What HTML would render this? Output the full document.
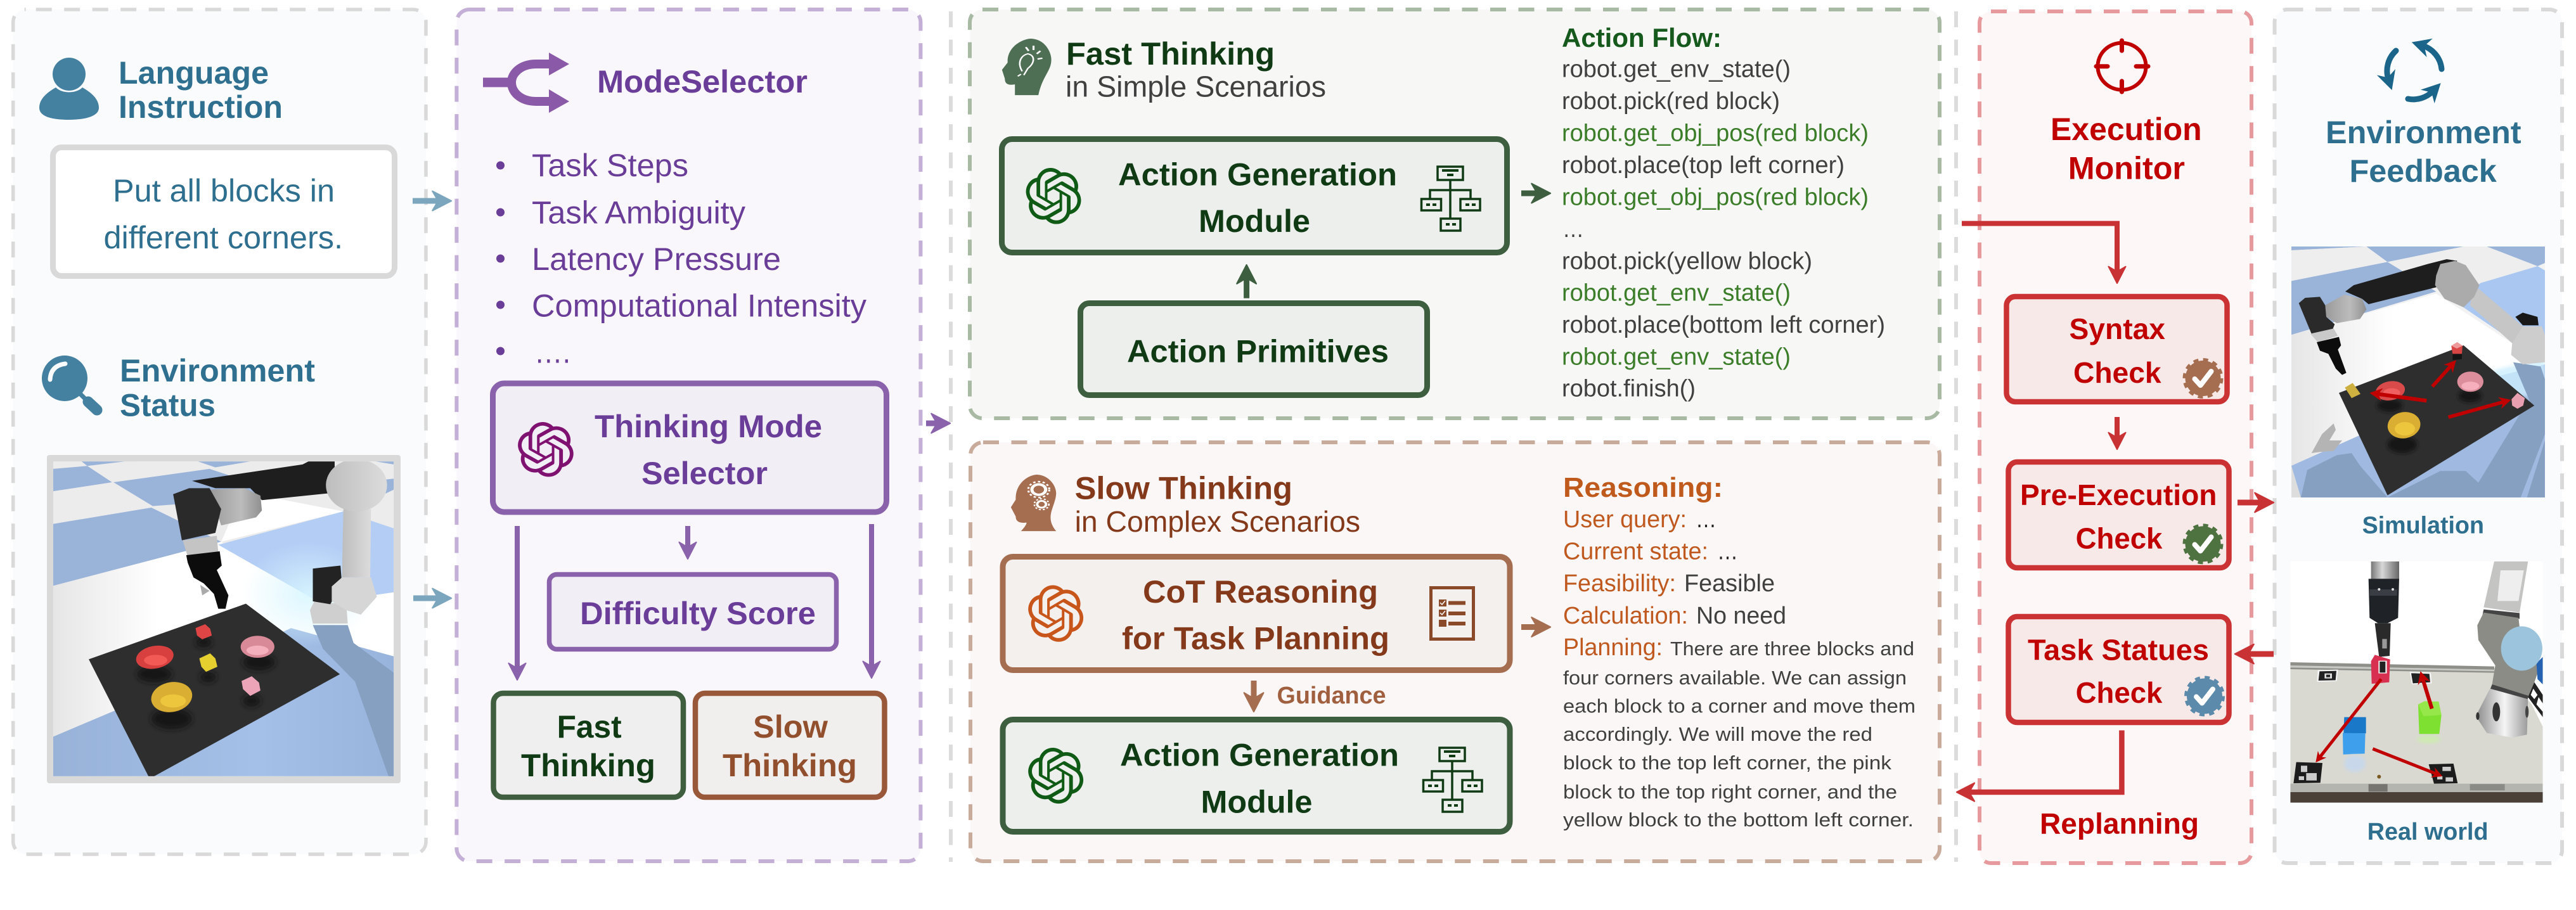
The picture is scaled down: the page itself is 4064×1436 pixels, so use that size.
<!DOCTYPE html>
<html><head><meta charset="utf-8"><style>
html,body{margin:0;padding:0;background:#fff}
svg{display:block}
text{font-family:"Liberation Sans",Arial,sans-serif;white-space:pre}
</style></head><body>
<svg xmlns="http://www.w3.org/2000/svg" width="4064" height="1436" viewBox="0 0 4064 1436">
<defs>
<marker id="mB" viewBox="-3 -3 6 6" markerWidth="6" markerHeight="6" refX="0" refY="0" orient="auto" markerUnits="strokeWidth"><path d="M2,0L-1.3,-1.7L-.3,0L-1.3,1.7Z" fill="#7ba6bd" stroke="#7ba6bd" stroke-width=".25" stroke-linejoin="round"/></marker>
<marker id="mP" viewBox="-3 -3 6 6" markerWidth="6" markerHeight="6" refX="0" refY="0" orient="auto" markerUnits="strokeWidth"><path d="M2,0L-1.3,-1.7L-.3,0L-1.3,1.7Z" fill="#8a62ac" stroke="#8a62ac" stroke-width=".25" stroke-linejoin="round"/></marker>
<marker id="mG" viewBox="-3 -3 6 6" markerWidth="6" markerHeight="6" refX="0" refY="0" orient="auto" markerUnits="strokeWidth"><path d="M2,0L-1.3,-1.7L-.3,0L-1.3,1.7Z" fill="#3e5e40" stroke="#3e5e40" stroke-width=".25" stroke-linejoin="round"/></marker>
<marker id="mW" viewBox="-3 -3 6 6" markerWidth="6" markerHeight="6" refX="0" refY="0" orient="auto" markerUnits="strokeWidth"><path d="M2,0L-1.3,-1.7L-.3,0L-1.3,1.7Z" fill="#a66e50" stroke="#a66e50" stroke-width=".25" stroke-linejoin="round"/></marker>
<marker id="mR" viewBox="-3 -3 6 6" markerWidth="6" markerHeight="6" refX="0" refY="0" orient="auto" markerUnits="strokeWidth"><path d="M2,0L-1.3,-1.7L-.3,0L-1.3,1.7Z" fill="#c93235" stroke="#c93235" stroke-width=".25" stroke-linejoin="round"/></marker>
<marker id="mD" viewBox="-3 -3 6 6" markerWidth="6" markerHeight="6" refX="0" refY="0" orient="auto" markerUnits="strokeWidth"><path d="M2,0L-1.3,-1.7L-.3,0L-1.3,1.7Z" fill="#c00000"/></marker>
<marker id="mC" viewBox="-3 -3 6 6" markerWidth="6" markerHeight="6" refX="0" refY="0" orient="auto" markerUnits="strokeWidth"><path d="M2,0L-1.3,-1.7L-.3,0L-1.3,1.7Z" fill="#1a6589"/></marker>
<clipPath id="c1"><rect x="183" y="60" width="1170" height="1058"/></clipPath>
<clipPath id="c2"><rect x="15" y="12" width="1200" height="1188"/></clipPath>
<clipPath id="c3"><rect x="10" y="18" width="1195" height="1142"/></clipPath>
<linearGradient id="fl" x1="0" x2="1" y1="0" y2="0"><stop offset="0" stop-color="#e6e6e6"/><stop offset=".4" stop-color="#fff"/><stop offset="1" stop-color="#fff"/></linearGradient>
<linearGradient id="tl" x1="0" x2="1" y1="0" y2="0"><stop offset="0" stop-color="#98b2d8"/><stop offset=".6" stop-color="#a4c0e8"/><stop offset="1" stop-color="#98b4dc"/></linearGradient>
<radialGradient id="gl" cx=".55" cy=".45" r=".35"><stop offset="0" stop-color="#d8f6ff" stop-opacity=".9"/><stop offset="1" stop-color="#d8f6ff" stop-opacity="0"/></radialGradient>
<linearGradient id="jt" x1="0" x2="1" y1="0" y2="0"><stop offset="0" stop-color="#bdbdbd"/><stop offset="1" stop-color="#dcdcdc"/></linearGradient>
<linearGradient id="jd" x1="0" x2="1" y1="0" y2="0"><stop offset="0" stop-color="#9a9a9a"/><stop offset=".6" stop-color="#bcbcbc"/><stop offset="1" stop-color="#8f8f8f"/></linearGradient>
<linearGradient id="sl" x1="0" x2="1" y1="0" y2="0"><stop offset="0" stop-color="#8a8a8a"/><stop offset=".55" stop-color="#f5f5f5"/><stop offset="1" stop-color="#9a9a9a"/></linearGradient>
<linearGradient id="cy" x1="0" x2="1" y1="0" y2="0"><stop offset="0" stop-color="#777"/><stop offset=".4" stop-color="#d8d8d8"/><stop offset="1" stop-color="#666"/></linearGradient>
<filter id="bl"><feGaussianBlur stdDeviation="9"/></filter>
</defs>

<!-- panels -->
<rect x="20.7" y="15" width="651.3" height="1333" rx="20" fill="#f9fbfd" stroke="#d9d9d9" stroke-width="5.5" stroke-dasharray="25 19.5" stroke-dashoffset="-16"/>
<rect x="720.4" y="15" width="732" height="1344" rx="20" fill="#f9f7fb" stroke="#c4afd6" stroke-width="6" stroke-dasharray="25 19.5"/>
<rect x="1530" y="15" width="1530" height="645" rx="20" fill="#f7f8f6" stroke="#a9baa4" stroke-width="6" stroke-dasharray="25 19.5"/>
<rect x="1531" y="698" width="1529" height="661" rx="20" fill="#fbf7f6" stroke="#c9ab9c" stroke-width="6" stroke-dasharray="25 19.5"/>
<rect x="3123" y="18" width="429" height="1344" rx="18" fill="#fdf7f7" stroke="#e79a9e" stroke-width="6" stroke-dasharray="25 19.5"/>
<rect x="3588.5" y="15" width="453.5" height="1347" rx="20" fill="#f9fbfd" stroke="#d9d9d9" stroke-width="6" stroke-dasharray="25 19.5"/>
<line x1="1500" y1="18" x2="1500" y2="1360" stroke="#dcdcdc" stroke-width="6" stroke-dasharray="25 19.5"/>
<line x1="3086" y1="18" x2="3086" y2="1360" stroke="#dcdcdc" stroke-width="6" stroke-dasharray="25 19.5"/>

<!-- Language Instruction -->
<circle cx="109" cy="117" r="26" fill="#44809f"/>
<path d="M62 170C62 155 76 145 88 138C98 148 120 148 130 138C142 145 156 155 156 170C156 185 130 189 109 189C85 189 62 185 62 170Z" fill="#44809f"/>
<g font-size="50" fill="#2f6f8f" font-weight="700">
<text x="187" y="132" textLength="237" lengthAdjust="spacingAndGlyphs">Language</text>
<text x="187" y="186" textLength="259" lengthAdjust="spacingAndGlyphs">Instruction</text>
<text x="189" y="602" textLength="308" lengthAdjust="spacingAndGlyphs">Environment</text>
<text x="189" y="656.5" textLength="151" lengthAdjust="spacingAndGlyphs">Status</text>
</g>
<rect x="83.5" y="232.5" width="539" height="203" rx="14" fill="#fff" stroke="#d9d9d9" stroke-width="9"/>
<g font-size="50" fill="#2e6e8e">
<text x="178" y="318" textLength="350" lengthAdjust="spacingAndGlyphs">Put all blocks in</text>
<text x="163.5" y="392" textLength="377.5" lengthAdjust="spacingAndGlyphs">different corners.</text>
</g>
<!-- magnifier -->
<circle cx="102" cy="597" r="36" fill="#44809f"/>
<path d="M79 599Q80 577 103 574" fill="none" stroke="#f9fbfd" stroke-width="7" stroke-linecap="round"/>
<line x1="125" y1="620" x2="136" y2="631" stroke="#44809f" stroke-width="7"/>
<line x1="139" y1="634" x2="153" y2="647" stroke="#44809f" stroke-width="17" stroke-linecap="round"/>

<!-- sim image 1 -->
<rect x="74" y="718" width="558" height="518" rx="4" fill="#d9d9d9"/>
<g transform="translate(0,700) scale(.4591,.4695)"><g clip-path="url(#c1)">
<rect x="183" y="60" width="1170" height="1058" fill="url(#fl)"/>
<polygon points="183,60 1353,60 1353,300 183,480" fill="#ececec"/>
<polygon points="183,85 300,75 385,130 183,160" fill="#9ab3d9"/>
<polygon points="280,60 430,60 300,75" fill="#9ab3d9"/>
<polygon points="680,60 860,60 740,80" fill="#9ab3d9"/>
<polygon points="1290,60 1353,60 1353,70" fill="#9ab3d9"/>
<polygon points="390,130 720,85 1000,175 525,210" fill="#9ab3d9"/>
<polygon points="183,270 520,215 760,330 183,478" fill="#9ab3d9"/>
<polygon points="1280,125 1353,118 1353,155 1320,170" fill="#9ab3d9"/>
<polygon points="760,330 1180,228 900,175 800,240" fill="#fff"/>
<polygon points="183,478 760,330 1080,530 1000,620 400,895 183,985" fill="url(#fl)"/>
<polygon points="750,340 1180,228 1353,285 1353,500 1100,535" fill="#b3cdf5"/>
<polygon points="1100,535 1353,500 1353,715 1000,620" fill="#fff"/>
<polygon points="183,985 400,895 1000,620 1353,715 1353,1118 183,1118" fill="url(#tl)"/>
<rect x="700" y="280" width="653" height="500" fill="url(#gl)"/>
<polygon points="1075,610 1195,610 1215,670 1353,770 1353,1118 1335,1118 1220,800 1110,690" fill="#86a0c2"/>
<polygon points="305,725 845,538 1168,775 530,1118 510,1118" fill="#2e2e2e"/>
<g filter="url(#bl)" fill="#161616"><ellipse cx="530" cy="775" rx="60" ry="28"/><ellipse cx="890" cy="735" rx="55" ry="28"/><ellipse cx="590" cy="925" rx="70" ry="35"/><ellipse cx="700" cy="668" rx="28" ry="18"/><ellipse cx="715" cy="785" rx="28" ry="18"/><ellipse cx="865" cy="865" rx="30" ry="20"/></g>
<ellipse cx="532" cy="718" rx="65" ry="38" transform="rotate(-10 532 718)" fill="#d8403f"/><ellipse cx="535" cy="728" rx="40" ry="18" fill="#f15a55"/>
<ellipse cx="885" cy="683" rx="58" ry="37" fill="#d98a98"/><ellipse cx="885" cy="695" rx="38" ry="16" fill="#f4b0bd"/>
<ellipse cx="590" cy="852" rx="71" ry="50" transform="rotate(-10 590 852)" fill="#d9ae32"/><ellipse cx="595" cy="865" rx="44" ry="22" fill="#eec63e"/>
<polygon points="672,620 705,607 722,622 728,645 695,658 677,645" fill="#e04545"/>
<polygon points="685,722 722,705 740,722 747,750 708,767 692,750" fill="#e6d030"/>
<polygon points="830,798 865,782 890,803 895,830 860,848 835,825" fill="#eba4b8"/>
<!-- robot -->
<polygon points="1065,560 1080,530 1190,540 1195,605 1075,605" fill="#cfcfcf"/>
<polygon points="1075,420 1170,410 1175,470 1135,540 1075,530" fill="#232323"/>
<polygon points="1180,220 1275,220 1272,450 1175,450" fill="url(#jt)"/>
<polygon points="1175,450 1275,450 1295,515 1240,575 1190,560 1140,530 1140,480" fill="#d6d6d6"/>
<polygon points="660,125 1040,70 1060,60 1150,60 1150,165 900,190 860,150 740,150" fill="#1e1e1e"/>
<ellipse cx="1225" cy="140" rx="105" ry="88" fill="url(#jt)"/>
<polygon points="720,155 840,150 895,175 900,225 880,248 760,275" fill="url(#jd)"/>
<path d="M595 170L650 150H720L760 220L740 300L625 325Z" fill="#2a2a2a"/>
<polygon points="628,325 745,310 750,365 645,380" fill="#c4c4c4"/>
<polygon points="640,375 755,362 762,410 745,425 785,510 775,555 750,555 735,505 700,470 665,450 645,400" fill="#0c0c0c"/>
<polygon points="688,475 720,495 695,510" fill="#aaa"/>
</g></g>

<!-- blue arrows -->
<line x1="651" y1="317" x2="694" y2="317" stroke="#7ba6bd" stroke-width="9" marker-end="url(#mB)"/>
<line x1="652" y1="944" x2="694" y2="944" stroke="#7ba6bd" stroke-width="9" marker-end="url(#mB)"/>

<!-- ModeSelector -->
<path d="M762 130H807" stroke="#8a5aa8" stroke-width="15" fill="none"/>
<path d="M872 101H846C822 101 807 115 807 130C807 146 822 160 846 160H872" stroke="#8a5aa8" stroke-width="14" fill="none"/>
<polygon points="866,83 898,101 866,119" fill="#8a5aa8"/>
<polygon points="866,141 898,160 866,178" fill="#8a5aa8"/>
<text x="942" y="146" font-size="50" font-weight="700" fill="#6a3d98" textLength="332" lengthAdjust="spacingAndGlyphs">ModeSelector</text>
<g fill="#6a3d98">
<circle cx="789.5" cy="261" r="6.5"/><circle cx="789.5" cy="335" r="6.5"/><circle cx="789.5" cy="408" r="6.5"/><circle cx="789.5" cy="481" r="6.5"/><circle cx="789.5" cy="554" r="6.5"/>
<g font-size="50">
<text x="839" y="278" textLength="247" lengthAdjust="spacingAndGlyphs">Task Steps</text>
<text x="839" y="352.6" textLength="337" lengthAdjust="spacingAndGlyphs">Task Ambiguity</text>
<text x="839" y="426" textLength="393" lengthAdjust="spacingAndGlyphs">Latency Pressure</text>
<text x="839" y="499.5" textLength="528" lengthAdjust="spacingAndGlyphs">Computational Intensity</text>
<text x="843" y="572.5" textLength="57" lengthAdjust="spacingAndGlyphs">….</text>
</g></g>
<rect x="777.5" y="605" width="621" height="203" rx="18" fill="#f2eef6" stroke="#8a62ac" stroke-width="9"/>
<g transform="translate(816.5,666) scale(3.7,3.6)" fill="#7f1270"><path d="M22.2819 9.8211a5.9847 5.9847 0 0 0-.5157-4.9108 6.0462 6.0462 0 0 0-6.5098-2.9A6.0651 6.0651 0 0 0 4.9807 4.1818a5.9847 5.9847 0 0 0-3.9977 2.9 6.0462 6.0462 0 0 0 .7427 7.0966 5.98 5.98 0 0 0 .511 4.9107 6.051 6.051 0 0 0 6.5146 2.9001A5.9847 5.9847 0 0 0 13.2599 24a6.0557 6.0557 0 0 0 5.7718-4.2058 5.9894 5.9894 0 0 0 3.9977-2.9001 6.0557 6.0557 0 0 0-.7475-7.0729zm-9.022 12.6081a4.4755 4.4755 0 0 1-2.8764-1.0408l.1419-.0804 4.7783-2.7582a.7948.7948 0 0 0 .3927-.6813v-6.7369l2.02 1.1686a.071.071 0 0 1 .038.052v5.5826a4.504 4.504 0 0 1-4.4945 4.4944zm-9.6607-4.1254a4.4708 4.4708 0 0 1-.5346-3.0137l.142.0852 4.783 2.7582a.7712.7712 0 0 0 .7806 0l5.8428-3.3685v2.3324a.0804.0804 0 0 1-.0332.0615L9.74 19.9502a4.4992 4.4992 0 0 1-6.1408-1.6464zM2.3408 7.8956a4.485 4.485 0 0 1 2.3655-1.9728V11.6a.7664.7664 0 0 0 .3879.6765l5.8144 3.3543-2.0201 1.1685a.0757.0757 0 0 1-.071 0l-4.8303-2.7865A4.504 4.504 0 0 1 2.3408 7.872zm16.5963 3.8558L13.1038 8.364 15.1192 7.2a.0757.0757 0 0 1 .071 0l4.8303 2.7913a4.4944 4.4944 0 0 1-.6765 8.1042v-5.6772a.79.79 0 0 0-.407-.667zm2.0107-3.0231l-.142-.0852-4.7735-2.7818a.7759.7759 0 0 0-.7854 0L9.409 9.2297V6.8974a.0662.0662 0 0 1 .0284-.0615l4.8303-2.7866a4.4992 4.4992 0 0 1 6.6802 4.66zM8.3065 12.863l-2.02-1.1638a.0804.0804 0 0 1-.038-.0567V6.0742a4.4992 4.4992 0 0 1 7.3757-3.4537l-.142.0805L8.704 5.459a.7948.7948 0 0 0-.3927.6813zm1.0976-2.3654l2.602-1.4998 2.6069 1.4998v2.9994l-2.5974 1.4997-2.6067-1.4997Z"/></g>
<g font-size="50" font-weight="700" fill="#6a3d98">
<text x="938" y="690" textLength="359" lengthAdjust="spacingAndGlyphs">Thinking Mode</text>
<text x="1012" y="764" textLength="199" lengthAdjust="spacingAndGlyphs">Selector</text>
</g>
<g stroke="#8a62ac" stroke-width="8" fill="none">
<line x1="816" y1="830" x2="816" y2="1057" marker-end="url(#mP)"/>
<line x1="1085" y1="830" x2="1085" y2="866" marker-end="url(#mP)"/>
<line x1="1375" y1="827" x2="1375" y2="1054" marker-end="url(#mP)"/>
</g>
<rect x="866.5" y="906.5" width="453" height="118" rx="12" fill="#f2eef6" stroke="#8a62ac" stroke-width="7.5"/>
<text x="915" y="985" font-size="50" font-weight="700" fill="#6a3d98" textLength="372" lengthAdjust="spacingAndGlyphs">Difficulty Score</text>
<rect x="778.5" y="1094" width="299.5" height="164" rx="15" fill="#efefef" stroke="#3e5e3f" stroke-width="8.5"/>
<rect x="1097" y="1094" width="298.5" height="164" rx="15" fill="#f1eeee" stroke="#99583a" stroke-width="8.5"/>
<g font-size="50" font-weight="700">
<text x="878.6" y="1164" fill="#0f3a14" textLength="102" lengthAdjust="spacingAndGlyphs">Fast</text>
<text x="822" y="1225" fill="#0f3a14" textLength="212" lengthAdjust="spacingAndGlyphs">Thinking</text>
<text x="1188" y="1164" fill="#924f2d" textLength="118" lengthAdjust="spacingAndGlyphs">Slow</text>
<text x="1140" y="1225" fill="#924f2d" textLength="212" lengthAdjust="spacingAndGlyphs">Thinking</text>
</g>
<line x1="1461" y1="668" x2="1481" y2="668" stroke="#8a62ac" stroke-width="9" marker-end="url(#mP)"/>

<!-- Fast Thinking -->
<g transform="translate(1480,0) scale(.6378,.4591)">
<path d="M190 327V290C170 295 165 285 165 270L158 240L172 215C170 160 210 133 230 133C265 135 280 180 280 205C280 245 258 260 248 327Z" fill="#4f6f55"/>
<path d="M205 255L197 262M208 245C195 215 205 190 222 185C240 190 240 215 222 235L212 258" stroke="#fff" stroke-width="4" fill="none"/>
<path d="M217 162L224 175M236 157V172M253 175L244 185M258 200L246 203" stroke="#fff" stroke-width="5" fill="none"/>
</g>
<text x="1682" y="102" font-size="50" font-weight="700" fill="#0f3a14" textLength="329" lengthAdjust="spacingAndGlyphs">Fast Thinking</text>
<text x="1681" y="152.4" font-size="46" fill="#404040" textLength="411" lengthAdjust="spacingAndGlyphs">in Simple Scenarios</text>
<rect x="1580.5" y="219.5" width="797" height="179" rx="16" fill="#edefed" stroke="#3e5e40" stroke-width="9"/>
<g transform="translate(1618,265) scale(3.67,3.69)" fill="#0f5a14"><path d="M22.2819 9.8211a5.9847 5.9847 0 0 0-.5157-4.9108 6.0462 6.0462 0 0 0-6.5098-2.9A6.0651 6.0651 0 0 0 4.9807 4.1818a5.9847 5.9847 0 0 0-3.9977 2.9 6.0462 6.0462 0 0 0 .7427 7.0966 5.98 5.98 0 0 0 .511 4.9107 6.051 6.051 0 0 0 6.5146 2.9001A5.9847 5.9847 0 0 0 13.2599 24a6.0557 6.0557 0 0 0 5.7718-4.2058 5.9894 5.9894 0 0 0 3.9977-2.9001 6.0557 6.0557 0 0 0-.7475-7.0729zm-9.022 12.6081a4.4755 4.4755 0 0 1-2.8764-1.0408l.1419-.0804 4.7783-2.7582a.7948.7948 0 0 0 .3927-.6813v-6.7369l2.02 1.1686a.071.071 0 0 1 .038.052v5.5826a4.504 4.504 0 0 1-4.4945 4.4944zm-9.6607-4.1254a4.4708 4.4708 0 0 1-.5346-3.0137l.142.0852 4.783 2.7582a.7712.7712 0 0 0 .7806 0l5.8428-3.3685v2.3324a.0804.0804 0 0 1-.0332.0615L9.74 19.9502a4.4992 4.4992 0 0 1-6.1408-1.6464zM2.3408 7.8956a4.485 4.485 0 0 1 2.3655-1.9728V11.6a.7664.7664 0 0 0 .3879.6765l5.8144 3.3543-2.0201 1.1685a.0757.0757 0 0 1-.071 0l-4.8303-2.7865A4.504 4.504 0 0 1 2.3408 7.872zm16.5963 3.8558L13.1038 8.364 15.1192 7.2a.0757.0757 0 0 1 .071 0l4.8303 2.7913a4.4944 4.4944 0 0 1-.6765 8.1042v-5.6772a.79.79 0 0 0-.407-.667zm2.0107-3.0231l-.142-.0852-4.7735-2.7818a.7759.7759 0 0 0-.7854 0L9.409 9.2297V6.8974a.0662.0662 0 0 1 .0284-.0615l4.8303-2.7866a4.4992 4.4992 0 0 1 6.6802 4.66zM8.3065 12.863l-2.02-1.1638a.0804.0804 0 0 1-.038-.0567V6.0742a4.4992 4.4992 0 0 1 7.3757-3.4537l-.142.0805L8.704 5.459a.7948.7948 0 0 0-.3927.6813zm1.0976-2.3654l2.602-1.4998 2.6069 1.4998v2.9994l-2.5974 1.4997-2.6067-1.4997Z"/></g>
<g font-size="50" font-weight="700" fill="#0f3a14">
<text x="1764" y="292.5" textLength="440" lengthAdjust="spacingAndGlyphs">Action Generation</text>
<text x="1891" y="366" textLength="176" lengthAdjust="spacingAndGlyphs">Module</text>
</g>
<g transform="translate(2241,262)" fill="none" stroke="#0f3a14" stroke-width="3.5">
<rect x="27" y="1" width="40" height="21"/><path d="M34 7H60M42 14H52" stroke-width="4"/>
<path d="M47 22V83M15 52V38H79V52"/>
<rect x="1.5" y="52" width="31" height="18"/><rect x="63" y="52" width="31" height="18"/><rect x="32" y="83" width="31" height="19"/>
<path d="M9 61H15M19 61H25M71 61H77M81 61H87M40 92H46M50 92H56" stroke-width="4"/>
</g>
<line x1="2400" y1="305" x2="2428" y2="305" stroke="#3e5e40" stroke-width="9" marker-end="url(#mG)"/>
<line x1="1966.6" y1="470.6" x2="1966.6" y2="436" stroke="#3e5e40" stroke-width="9" marker-end="url(#mG)"/>
<rect x="1704.5" y="478.5" width="547" height="145" rx="14" fill="#edefed" stroke="#3e5e40" stroke-width="9"/>
<text x="1778" y="571.6" font-size="50" font-weight="700" fill="#0f3a14" textLength="413" lengthAdjust="spacingAndGlyphs">Action Primitives</text>

<!-- Action Flow -->
<text x="2464" y="74" font-size="42" font-weight="700" fill="#15591c" textLength="252" lengthAdjust="spacingAndGlyphs">Action Flow:</text>
<g font-size="38" fill="#404040">
<text x="2464" y="121.7" textLength="361" lengthAdjust="spacingAndGlyphs">robot.get_env_state()</text>
<text x="2464" y="172" textLength="344" lengthAdjust="spacingAndGlyphs">robot.pick(red block)</text>
<text x="2464" y="222.7" fill="#3c7d2a" textLength="484" lengthAdjust="spacingAndGlyphs">robot.get_obj_pos(red block)</text>
<text x="2464" y="273" textLength="446" lengthAdjust="spacingAndGlyphs">robot.place(top left corner)</text>
<text x="2464" y="323.7" fill="#3c7d2a" textLength="484" lengthAdjust="spacingAndGlyphs">robot.get_obj_pos(red block)</text>
<text x="2465" y="374" textLength="34" lengthAdjust="spacingAndGlyphs">…</text>
<text x="2464" y="424.7" textLength="395" lengthAdjust="spacingAndGlyphs">robot.pick(yellow block)</text>
<text x="2464" y="474.3" fill="#3c7d2a" textLength="361" lengthAdjust="spacingAndGlyphs">robot.get_env_state()</text>
<text x="2464" y="524.8" textLength="510" lengthAdjust="spacingAndGlyphs">robot.place(bottom left corner)</text>
<text x="2464" y="575.3" fill="#3c7d2a" textLength="361" lengthAdjust="spacingAndGlyphs">robot.get_env_state()</text>
<text x="2464" y="625.3" textLength="211" lengthAdjust="spacingAndGlyphs">robot.finish()</text>
</g>

<!-- Slow Thinking -->
<g transform="translate(1480,680) scale(.6378,.4822)">
<path d="M205 328C218 310 220 300 218 300C200 303 192 295 192 280L180 250L192 225C190 170 225 143 245 143C275 145 292 180 292 205C290 250 262 280 292 328Z" fill="#a66e50"/>
<g fill="none" stroke="#fff"><circle cx="249" cy="192" r="17" stroke-width="8"/><circle cx="249" cy="192" r="26" stroke-width="5" stroke-dasharray="6 6"/><circle cx="256" cy="240" r="11" stroke-width="6"/><circle cx="256" cy="240" r="18" stroke-width="4" stroke-dasharray="5 5"/></g>
</g>
<text x="1695.6" y="787.5" font-size="50" font-weight="700" fill="#83391a" textLength="343.4" lengthAdjust="spacingAndGlyphs">Slow Thinking</text>
<text x="1695.6" y="839" font-size="46" fill="#83391a" textLength="450.4" lengthAdjust="spacingAndGlyphs">in Complex Scenarios</text>
<rect x="1582" y="878.5" width="800" height="179" rx="16" fill="#f4f0ee" stroke="#a66e50" stroke-width="9"/>
<g transform="translate(1621.6,923.5) scale(3.67,3.72)" fill="#c8551a"><path d="M22.2819 9.8211a5.9847 5.9847 0 0 0-.5157-4.9108 6.0462 6.0462 0 0 0-6.5098-2.9A6.0651 6.0651 0 0 0 4.9807 4.1818a5.9847 5.9847 0 0 0-3.9977 2.9 6.0462 6.0462 0 0 0 .7427 7.0966 5.98 5.98 0 0 0 .511 4.9107 6.051 6.051 0 0 0 6.5146 2.9001A5.9847 5.9847 0 0 0 13.2599 24a6.0557 6.0557 0 0 0 5.7718-4.2058 5.9894 5.9894 0 0 0 3.9977-2.9001 6.0557 6.0557 0 0 0-.7475-7.0729zm-9.022 12.6081a4.4755 4.4755 0 0 1-2.8764-1.0408l.1419-.0804 4.7783-2.7582a.7948.7948 0 0 0 .3927-.6813v-6.7369l2.02 1.1686a.071.071 0 0 1 .038.052v5.5826a4.504 4.504 0 0 1-4.4945 4.4944zm-9.6607-4.1254a4.4708 4.4708 0 0 1-.5346-3.0137l.142.0852 4.783 2.7582a.7712.7712 0 0 0 .7806 0l5.8428-3.3685v2.3324a.0804.0804 0 0 1-.0332.0615L9.74 19.9502a4.4992 4.4992 0 0 1-6.1408-1.6464zM2.3408 7.8956a4.485 4.485 0 0 1 2.3655-1.9728V11.6a.7664.7664 0 0 0 .3879.6765l5.8144 3.3543-2.0201 1.1685a.0757.0757 0 0 1-.071 0l-4.8303-2.7865A4.504 4.504 0 0 1 2.3408 7.872zm16.5963 3.8558L13.1038 8.364 15.1192 7.2a.0757.0757 0 0 1 .071 0l4.8303 2.7913a4.4944 4.4944 0 0 1-.6765 8.1042v-5.6772a.79.79 0 0 0-.407-.667zm2.0107-3.0231l-.142-.0852-4.7735-2.7818a.7759.7759 0 0 0-.7854 0L9.409 9.2297V6.8974a.0662.0662 0 0 1 .0284-.0615l4.8303-2.7866a4.4992 4.4992 0 0 1 6.6802 4.66zM8.3065 12.863l-2.02-1.1638a.0804.0804 0 0 1-.038-.0567V6.0742a4.4992 4.4992 0 0 1 7.3757-3.4537l-.142.0805L8.704 5.459a.7948.7948 0 0 0-.3927.6813zm1.0976-2.3654l2.602-1.4998 2.6069 1.4998v2.9994l-2.5974 1.4997-2.6067-1.4997Z"/></g>
<g font-size="50" font-weight="700" fill="#83391a">
<text x="1803" y="951" textLength="371" lengthAdjust="spacingAndGlyphs">CoT Reasoning</text>
<text x="1770" y="1024.7" textLength="422" lengthAdjust="spacingAndGlyphs">for Task Planning</text>
</g>
<rect x="2257.5" y="927.5" width="67" height="81" fill="#f4f0ee" stroke="#8a4a2a" stroke-width="5"/>
<g fill="#8a4a2a">
<rect x="2270" y="946" width="12" height="11"/><rect x="2270" y="962" width="12" height="11"/><rect x="2270" y="978" width="12" height="11"/>
<rect x="2285" y="948.5" width="27" height="6"/><rect x="2285" y="965" width="27" height="6"/><rect x="2285" y="981" width="27" height="6"/>
</g>
<path d="M2272 951l3 3l5-6M2272 967l3 3l5-6" stroke="#fff" stroke-width="1.5" fill="none"/>
<line x1="2400" y1="989.5" x2="2428" y2="989.5" stroke="#a66e50" stroke-width="9" marker-end="url(#mW)"/>
<line x1="1978" y1="1074" x2="1978" y2="1105" stroke="#a66e50" stroke-width="9" marker-end="url(#mW)"/>
<text x="2014.5" y="1110" font-size="38" font-weight="700" fill="#a0603f" textLength="172" lengthAdjust="spacingAndGlyphs">Guidance</text>
<rect x="1582" y="1135.5" width="800" height="177" rx="16" fill="#edefed" stroke="#3e5e40" stroke-width="9"/>
<g transform="translate(1621.6,1180) scale(3.67,3.67)" fill="#0f5a14"><path d="M22.2819 9.8211a5.9847 5.9847 0 0 0-.5157-4.9108 6.0462 6.0462 0 0 0-6.5098-2.9A6.0651 6.0651 0 0 0 4.9807 4.1818a5.9847 5.9847 0 0 0-3.9977 2.9 6.0462 6.0462 0 0 0 .7427 7.0966 5.98 5.98 0 0 0 .511 4.9107 6.051 6.051 0 0 0 6.5146 2.9001A5.9847 5.9847 0 0 0 13.2599 24a6.0557 6.0557 0 0 0 5.7718-4.2058 5.9894 5.9894 0 0 0 3.9977-2.9001 6.0557 6.0557 0 0 0-.7475-7.0729zm-9.022 12.6081a4.4755 4.4755 0 0 1-2.8764-1.0408l.1419-.0804 4.7783-2.7582a.7948.7948 0 0 0 .3927-.6813v-6.7369l2.02 1.1686a.071.071 0 0 1 .038.052v5.5826a4.504 4.504 0 0 1-4.4945 4.4944zm-9.6607-4.1254a4.4708 4.4708 0 0 1-.5346-3.0137l.142.0852 4.783 2.7582a.7712.7712 0 0 0 .7806 0l5.8428-3.3685v2.3324a.0804.0804 0 0 1-.0332.0615L9.74 19.9502a4.4992 4.4992 0 0 1-6.1408-1.6464zM2.3408 7.8956a4.485 4.485 0 0 1 2.3655-1.9728V11.6a.7664.7664 0 0 0 .3879.6765l5.8144 3.3543-2.0201 1.1685a.0757.0757 0 0 1-.071 0l-4.8303-2.7865A4.504 4.504 0 0 1 2.3408 7.872zm16.5963 3.8558L13.1038 8.364 15.1192 7.2a.0757.0757 0 0 1 .071 0l4.8303 2.7913a4.4944 4.4944 0 0 1-.6765 8.1042v-5.6772a.79.79 0 0 0-.407-.667zm2.0107-3.0231l-.142-.0852-4.7735-2.7818a.7759.7759 0 0 0-.7854 0L9.409 9.2297V6.8974a.0662.0662 0 0 1 .0284-.0615l4.8303-2.7866a4.4992 4.4992 0 0 1 6.6802 4.66zM8.3065 12.863l-2.02-1.1638a.0804.0804 0 0 1-.038-.0567V6.0742a4.4992 4.4992 0 0 1 7.3757-3.4537l-.142.0805L8.704 5.459a.7948.7948 0 0 0-.3927.6813zm1.0976-2.3654l2.602-1.4998 2.6069 1.4998v2.9994l-2.5974 1.4997-2.6067-1.4997Z"/></g>
<g font-size="50" font-weight="700" fill="#0f3a14">
<text x="1767" y="1208.5" textLength="440" lengthAdjust="spacingAndGlyphs">Action Generation</text>
<text x="1894.5" y="1282.7" textLength="176" lengthAdjust="spacingAndGlyphs">Module</text>
</g>
<g transform="translate(2244,1179)" fill="none" stroke="#0f3a14" stroke-width="3.5">
<rect x="27" y="1" width="40" height="21"/><path d="M34 7H60M42 14H52" stroke-width="4"/>
<path d="M47 22V83M15 52V38H79V52"/>
<rect x="1.5" y="52" width="31" height="18"/><rect x="63" y="52" width="31" height="18"/><rect x="32" y="83" width="31" height="19"/>
<path d="M9 61H15M19 61H25M71 61H77M81 61H87M40 92H46M50 92H56" stroke-width="4"/>
</g>

<!-- Reasoning -->
<text x="2466" y="784" font-size="44" font-weight="700" fill="#c05a1c" textLength="252" lengthAdjust="spacingAndGlyphs">Reasoning:</text>
<g font-size="38">
<text x="2466" y="832" fill="#c0591f" textLength="195" lengthAdjust="spacingAndGlyphs">User query:</text><text x="2675" y="832" fill="#222" textLength="33" lengthAdjust="spacingAndGlyphs">…</text>
<text x="2466" y="882.5" fill="#c0591f" textLength="229" lengthAdjust="spacingAndGlyphs">Current state:</text><text x="2709" y="882.5" fill="#222" textLength="33" lengthAdjust="spacingAndGlyphs">…</text>
<text x="2466" y="933" fill="#c0591f" textLength="178" lengthAdjust="spacingAndGlyphs">Feasibility:</text><text x="2657" y="933" fill="#404040" textLength="143" lengthAdjust="spacingAndGlyphs">Feasible</text>
<text x="2466" y="984" fill="#c0591f" textLength="197" lengthAdjust="spacingAndGlyphs">Calculation:</text><text x="2676" y="984" fill="#404040" textLength="142" lengthAdjust="spacingAndGlyphs">No need</text>
<text x="2466" y="1034" fill="#c0591f" textLength="157" lengthAdjust="spacingAndGlyphs">Planning:</text>
</g>
<g font-size="31" fill="#404040">
<text x="2635" y="1034" textLength="385" lengthAdjust="spacingAndGlyphs">There are three blocks and</text>
<text x="2466" y="1080" textLength="542" lengthAdjust="spacingAndGlyphs">four corners available. We can assign</text>
<text x="2466" y="1124.5" textLength="556" lengthAdjust="spacingAndGlyphs">each block to a corner and move them</text>
<text x="2466" y="1169" textLength="488" lengthAdjust="spacingAndGlyphs">accordingly. We will move the red</text>
<text x="2466" y="1214" textLength="518" lengthAdjust="spacingAndGlyphs">block to the top left corner, the pink</text>
<text x="2466" y="1260" textLength="527" lengthAdjust="spacingAndGlyphs">block to the top right corner, and the</text>
<text x="2466" y="1304" textLength="553" lengthAdjust="spacingAndGlyphs">yellow block to the bottom left corner.</text>
</g>

<!-- Execution Monitor -->
<ellipse cx="3347.5" cy="104.7" rx="38" ry="37" fill="none" stroke="#c00000" stroke-width="6"/>
<path d="M3347.5 64V80M3347.5 128V145M3307 104.7H3325M3370 104.7H3389" stroke="#c00000" stroke-width="7" stroke-linecap="round"/>
<g font-size="50" font-weight="700" fill="#c00000">
<text x="3235" y="221" textLength="238.6" lengthAdjust="spacingAndGlyphs">Execution</text>
<text x="3262.7" y="282.4" textLength="184.3" lengthAdjust="spacingAndGlyphs">Monitor</text>
</g>
<polyline points="3095,352.6 3340,352.6 3340,431" fill="none" stroke="#c93235" stroke-width="8" marker-end="url(#mR)"/>
<g fill="#f8e9e9" stroke="#cb3234" stroke-width="8.5">
<rect x="3165.5" y="468" width="348" height="166" rx="14"/>
<rect x="3168.5" y="729" width="348" height="167" rx="14"/>
<rect x="3168.5" y="973" width="348" height="167" rx="14"/>
</g>
<g font-weight="700" fill="#c00000" font-size="46">
<text x="3264.5" y="535" textLength="151.5" lengthAdjust="spacingAndGlyphs">Syntax</text>
<text x="3271" y="603.8" textLength="138.6" lengthAdjust="spacingAndGlyphs">Check</text>
<text x="3187" y="797" textLength="310.5" lengthAdjust="spacingAndGlyphs">Pre-Execution</text>
<text x="3274.6" y="865.6" textLength="136.8" lengthAdjust="spacingAndGlyphs">Check</text>
<text x="3199" y="1041.6" textLength="286" lengthAdjust="spacingAndGlyphs">Task Statues</text>
<text x="3274.6" y="1109" textLength="136.8" lengthAdjust="spacingAndGlyphs">Check</text>
<text x="3218" y="1315.5" textLength="251" lengthAdjust="spacingAndGlyphs">Replanning</text>
</g>
<!-- badges -->
<g transform="translate(3475.5,597)"><circle r="28" fill="#a66e50"/><circle r="29.5" fill="none" stroke="#a66e50" stroke-width="5" stroke-dasharray="8 7.44"/><path d="M-13 1L-4 11L13 -11" fill="none" stroke="#fff" stroke-width="8" stroke-linecap="round" stroke-linejoin="round"/></g>
<g transform="translate(3475.5,858.4)"><circle r="28" fill="#4f7340"/><circle r="29.5" fill="none" stroke="#4f7340" stroke-width="5" stroke-dasharray="8 7.44"/><path d="M-13 1L-4 11L13 -11" fill="none" stroke="#fff" stroke-width="8" stroke-linecap="round" stroke-linejoin="round"/></g>
<g transform="translate(3478,1098.5)"><circle r="28" fill="#5b8aaa"/><circle r="29.5" fill="none" stroke="#5b8aaa" stroke-width="5" stroke-dasharray="8 7.44"/><path d="M-13 1L-4 11L13 -11" fill="none" stroke="#fff" stroke-width="8" stroke-linecap="round" stroke-linejoin="round"/></g>

<!-- Environment Feedback -->
<g fill="none" stroke="#1a6589" stroke-width="9" stroke-linecap="round">
<path d="M3852 109A43 43 0 0 0 3822 72" marker-end="url(#mC)"/>
<path d="M3780 80A43 43 0 0 0 3768 125" marker-end="url(#mC)"/>
<path d="M3799 156A43 43 0 0 0 3838 144" marker-end="url(#mC)"/>
</g>
<g font-size="50" font-weight="700" fill="#2e6e8e">
<text x="3669" y="226" textLength="308.6" lengthAdjust="spacingAndGlyphs">Environment</text>
<text x="3706.5" y="287" textLength="232.2" lengthAdjust="spacingAndGlyphs">Feedback</text>
</g>
<g font-size="38" font-weight="700" fill="#2e6e8e">
<text x="3726.6" y="841.5" textLength="192.4" lengthAdjust="spacingAndGlyphs">Simulation</text>
<text x="3734.7" y="1325" textLength="190.9" lengthAdjust="spacingAndGlyphs">Real world</text>
</g>

<!-- sim image 2 -->
<g transform="translate(3610,385) scale(.3333)"><g clip-path="url(#c2)">
<rect x="15" y="12" width="1200" height="1188" fill="#f2f2f2"/>
<polygon points="15,12 370,12 15,30" fill="#9ab3d9"/>
<polygon points="15,30 370,12 470,85 15,175" fill="#eeeeee"/>
<polygon points="370,12 830,12 470,85" fill="#9ab3d9"/>
<polygon points="470,85 830,12 940,12 1180,105 910,185 700,215" fill="#eeeeee"/>
<polygon points="940,12 1215,12 1215,90 1180,105" fill="#9ab3d9"/>
<polygon points="15,175 470,85 700,225 15,430" fill="#9ab3d9"/>
<polygon points="910,185 1180,105 1215,125 1215,490 1050,450 800,280" fill="#a9c7f0"/>
<polygon points="15,430 700,235 1060,470 1215,520 1215,570 700,700 340,905 15,1050" fill="url(#fl)"/>
<polygon points="15,1050 340,905 700,700 1215,570 1215,1200 15,1200" fill="#9fb9e0"/>
<polygon points="960,600 1215,540 1215,720 1040,720" fill="#cdeeff" opacity=".8" filter="url(#bl)"/>
<polygon points="15,1050 60,1200 15,1200" fill="#dddddd"/>
<polygon points="60,1200 90,1070 230,1000 300,990 340,1050 470,1200" fill="#86a0c2"/>
<polygon points="470,1200 720,1075 840,1075 900,1130 1040,900 1100,800 1150,760 1065,560 1195,580 1215,640 1215,900 1100,1200" fill="#86a0c2"/>
<polygon points="1130,1200 1215,930 1215,1200" fill="#86a0c2"/>
<polygon points="110,990 160,900 215,850 225,880 195,930 255,930 215,980 150,985" fill="#b4b4b4"/>
<polygon points="240,705 830,480 1165,765 470,1190" fill="#2e2e2e"/>
<g filter="url(#bl)" fill="#161616"><ellipse cx="480" cy="765" rx="60" ry="30"/><ellipse cx="860" cy="720" rx="55" ry="30"/><ellipse cx="540" cy="950" rx="70" ry="40"/></g>
<ellipse cx="483" cy="695" rx="70" ry="45" transform="rotate(-10 483 695)" fill="#d94a4a"/><ellipse cx="490" cy="705" rx="40" ry="22" fill="#f06060"/>
<ellipse cx="862" cy="652" rx="62" ry="48" fill="#dd8e9c"/><ellipse cx="862" cy="672" rx="42" ry="20" fill="#f6b0bd"/>
<ellipse cx="548" cy="858" rx="78" ry="62" transform="rotate(-10 548 858)" fill="#d9ae32"/><ellipse cx="552" cy="875" rx="48" ry="32" fill="#eec63e"/>
<polygon points="268,680 305,658 342,710 300,730" fill="#cdb040"/>
<polygon points="778,520 822,520 822,545 778,550" fill="#141414"/>
<polygon points="772,482 800,465 825,482 822,520 778,520" fill="#d84545"/><polygon points="772,482 800,465 825,482 798,495" fill="#ee9a9a"/>
<polygon points="1057,735 1085,705 1120,730 1112,765 1085,780 1060,765" fill="#e8a0b0"/>
<!-- robot -->
<polygon points="270,225 310,195 660,95 750,72 800,80 700,205 380,285 350,260" fill="#1e1e1e"/>
<polygon points="880,205 905,215 1110,390 1090,460 1060,470 860,290" fill="#c6c6c6"/>
<polygon points="1075,345 1110,325 1180,345 1185,385 1110,385" fill="#181818"/>
<polygon points="1060,470 1110,390 1200,390 1215,430 1215,560 1110,570 1055,525" fill="#cdcdcd"/>
<polygon points="700,150 720,95 790,80 840,100 905,195 880,250 830,300 740,260 695,195" fill="#ababab"/>
<polygon points="175,290 265,240 350,260 370,310 340,355 230,375 180,345" fill="url(#jd)"/>
<polygon points="50,280 80,255 150,250 175,290 180,345 220,380 210,405 110,425" fill="#2a2a2a"/>
<polygon points="105,425 215,400 235,435 140,465" fill="#c9c9c9"/>
<polygon points="135,465 240,440 250,480 235,500 275,610 255,620 225,590 190,520 150,505" fill="#0c0c0c"/>
<line x1="655" y1="742" x2="421" y2="710" stroke="#c00000" stroke-width="18" marker-end="url(#mD)"/>
<line x1="758" y1="820" x2="1022" y2="747" stroke="#c00000" stroke-width="17" marker-end="url(#mD)"/>
<line x1="682" y1="675" x2="772" y2="575" stroke="#c00000" stroke-width="17" marker-end="url(#mD)"/>
</g></g>

<!-- real world image -->
<g transform="translate(3610,880) scale(.3333)"><g clip-path="url(#c3)">
<rect x="10" y="18" width="1195" height="1142" fill="#fff"/>
<polygon points="10,520 975,520 1150,690 1205,800 1205,1075 10,1075" fill="#d9d9d2"/>
<polygon points="10,495 975,515 975,545 10,528" fill="#8f8f8a"/>
<polygon points="10,510 975,530 975,538 10,520" fill="#c8c8c4"/>
<rect x="10" y="1070" width="1195" height="40" fill="#b5b5b0"/>
<rect x="380" y="1072" width="90" height="36" fill="#77756f"/><rect x="860" y="1072" width="165" height="30" fill="#8a8a86"/>
<rect x="10" y="1110" width="1195" height="50" fill="#4a4038"/>
<polygon points="140,532 236,530 230,585 136,588" fill="#f4f4f4"/><polygon points="148,538 228,536 224,580 143,582" fill="#222"/><rect x="172" y="548" width="35" height="24" fill="#ddd"/><rect x="180" y="554" width="18" height="12" fill="#222"/>
<polygon points="575,540 675,545 680,595 585,600" fill="#f4f4f4"/><polygon points="582,547 668,550 672,590 590,595" fill="#222"/>
<polygon points="38,968 162,972 152,1066 25,1068" fill="#1c1c1c"/><rect x="60" y="985" width="30" height="30" fill="#ccc"/><rect x="85" y="1020" width="50" height="35" fill="#ccc"/><rect x="50" y="1035" width="25" height="18" fill="#ccc"/>
<polygon points="665,978 782,975 802,1068 690,1070" fill="#1c1c1c"/><rect x="730" y="990" width="40" height="20" fill="#ccc"/><rect x="745" y="1040" width="35" height="20" fill="#ccc"/><rect x="705" y="1035" width="25" height="15" fill="#ccc"/>
<rect x="392" y="18" width="133" height="85" fill="url(#cy)"/>
<polygon points="380,100 525,100 520,285 470,310 425,310 385,285" fill="#1f2328"/>
<rect x="385" y="150" width="130" height="30" fill="#3a3e44"/>
<circle cx="430" cy="150" r="6" fill="#ddd"/><circle cx="495" cy="150" r="6" fill="#ddd"/>
<polygon points="410,310 485,310 480,465 430,470" fill="#2a2a2a"/>
<rect x="445" y="385" width="22" height="45" fill="#999"/>
<polygon points="392,490 410,460 482,482 478,590 395,597" fill="#d83050"/>
<rect x="427" y="488" width="40" height="60" fill="#f2f2f2"/><rect x="433" y="492" width="27" height="52" fill="#222"/>
<polygon points="615,695 645,680 712,682 725,745 715,835 620,835" fill="#7ee030"/><polygon points="615,695 645,680 712,682 725,745 640,750" fill="#96e84a"/>
<ellipse cx="665" cy="860" rx="55" ry="20" fill="#cfe9b4" filter="url(#bl)"/>
<polygon points="265,755 368,755 368,832 262,832" fill="#1a78c8"/>
<polygon points="258,830 365,832 362,928 260,932" fill="#3ea0ec"/>
<ellipse cx="315" cy="975" rx="50" ry="40" fill="#c8d8ea" filter="url(#bl)"/>
<polygon points="975,18 1135,18 1095,260 925,235" fill="#c4c4c2"/>
<polygon points="1005,60 1115,60 1090,205 990,205" fill="#eeeeee"/>
<polygon points="925,245 1095,262 1095,290 920,270" fill="#444"/>
<polygon points="895,320 925,260 1090,285 1095,330 1190,520 1140,660 1040,660 965,600 980,510 900,390" fill="#8c8c86"/>
<polygon points="1175,500 1205,470 1205,600 1180,575" fill="#2461b0"/>
<polygon points="1165,590 1205,650 1205,755 1135,660" fill="#222"/><polygon points="1160,620 1180,650 1165,670 1148,650" fill="#fff"/><polygon points="1185,660 1205,690 1205,730 1175,695" fill="#fff"/>
<ellipse cx="1105" cy="430" rx="98" ry="105" fill="#9cc4dc"/>
<polygon points="965,600 1140,655 1130,675 955,625" fill="#444"/>
<polygon points="955,620 1135,670 1130,838 1060,852 940,830 888,750" fill="url(#sl)"/>
<ellipse cx="985" cy="730" rx="18" ry="45" fill="#333"/><ellipse cx="897" cy="750" rx="8" ry="18" fill="#333"/><ellipse cx="1130" cy="730" rx="8" ry="28" fill="#444"/>
<circle cx="430" cy="1037" r="9" fill="#7a5a20"/>
<line x1="440" y1="575" x2="148.5" y2="946" stroke="#c00000" stroke-width="15" marker-end="url(#mD)"/>
<line x1="680" y1="715" x2="636" y2="572" stroke="#c00000" stroke-width="18" marker-end="url(#mD)"/>
<line x1="400" y1="905" x2="702" y2="1024" stroke="#c00000" stroke-width="15" marker-end="url(#mD)"/>
</g></g>

<!-- red connectors -->
<line x1="3340" y1="658" x2="3340" y2="693" stroke="#c93235" stroke-width="8" marker-end="url(#mR)"/>
<line x1="3530" y1="793" x2="3569" y2="793" stroke="#c93235" stroke-width="9" marker-end="url(#mR)"/>
<line x1="3587" y1="1032" x2="3544" y2="1032" stroke="#c93235" stroke-width="9" marker-end="url(#mR)"/>
<polyline points="3347.4,1152.5 3347.4,1250 3104,1250" fill="none" stroke="#c93235" stroke-width="8.5" marker-end="url(#mR)"/>
</svg>
</body></html>
